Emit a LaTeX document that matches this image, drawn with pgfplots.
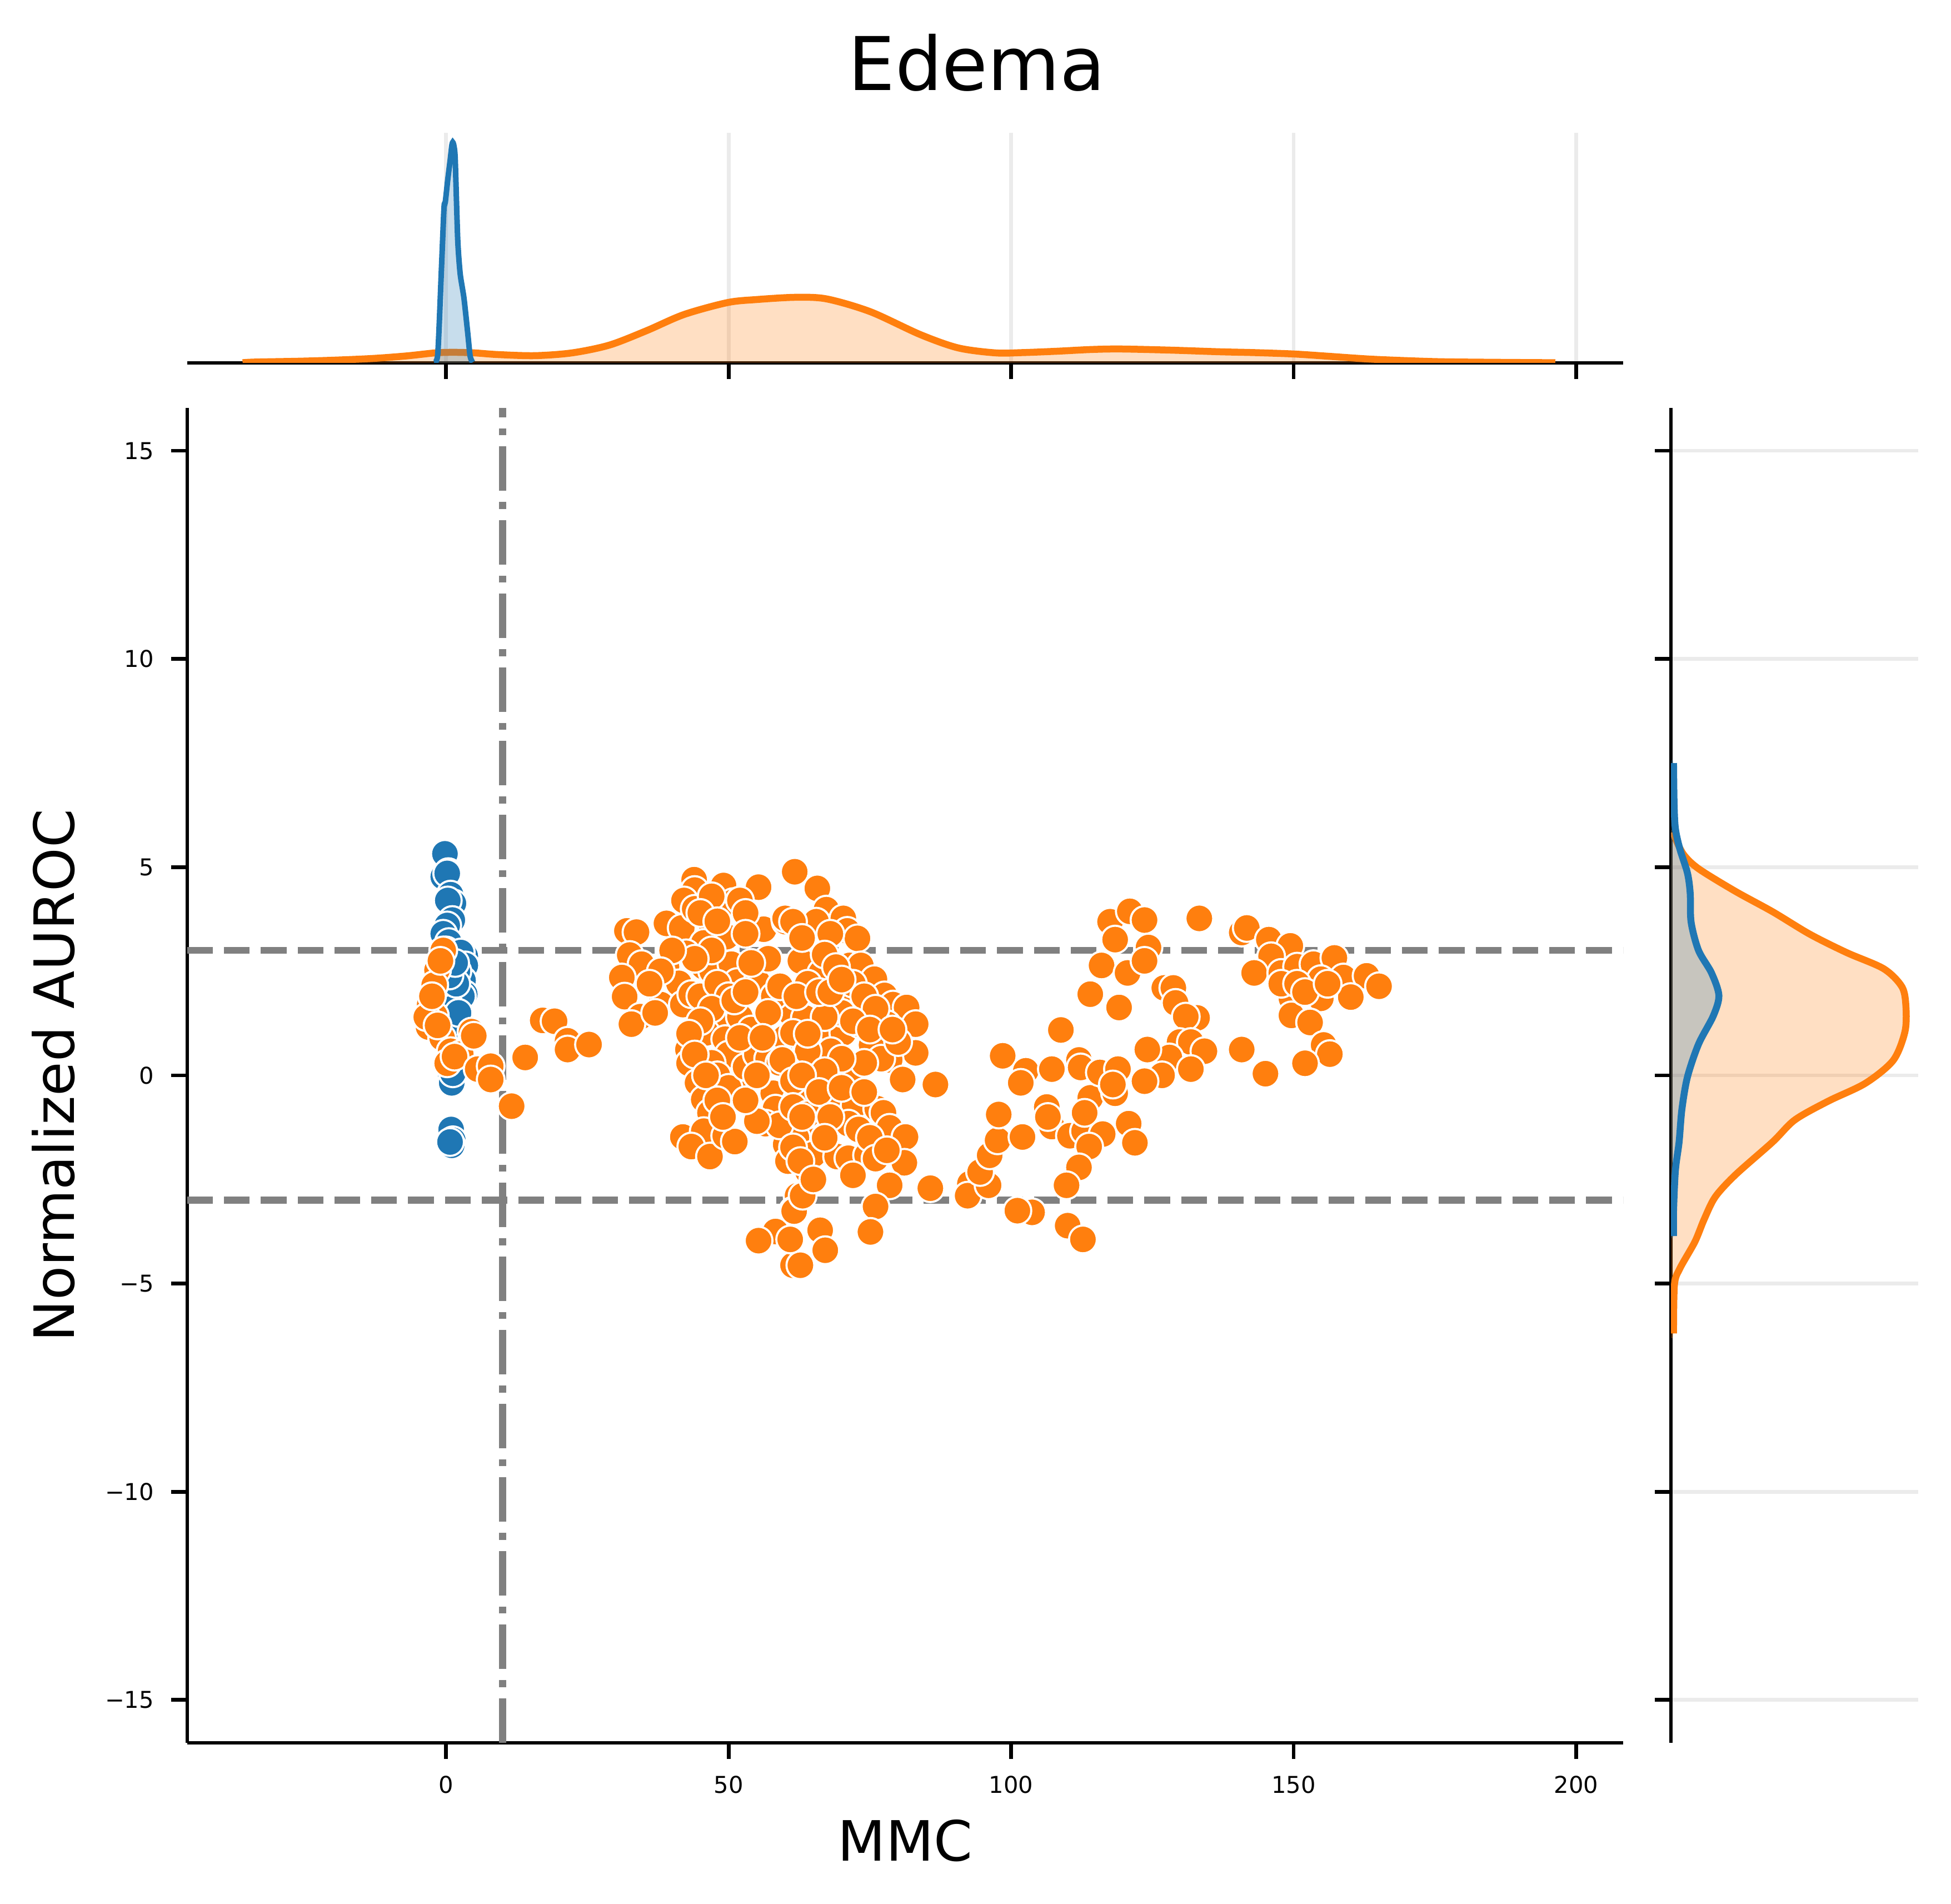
\documentclass[border=0pt]{standalone}
\usepackage{fontspec}
\setmainfont{DejaVu Sans}
\usepackage{pgfplots}
\pgfplotsset{compat=1.18}
\definecolor{tabblue}{HTML}{1F77B4}
\definecolor{taborange}{HTML}{FF7F0E}
\definecolor{gridc}{HTML}{EBEBEB}
\definecolor{refgray}{HTML}{808080}
\pgfplotsset{
  myaxis/.style={scale only axis, anchor=north west,
    tick align=outside, major tick length=3.5pt,
    tick style={black, line width=0.8pt},
    axis line style={black, line width=0.8pt},
    tick label style={font=\fontsize{5}{6}\selectfont},
    /pgf/number format/assume math mode=true,
    major grid style={gridc, line width=0.8pt},
  },
  dot/.style={only marks, mark=*, mark size=3pt, mark options={fill=#1, draw=white, line width=0.45pt}},
}
\begin{document}
\begin{tikzpicture}
\path[use as bounding box] (0,0) rectangle (421.32pt,-411.12pt);
\node[anchor=base, inner sep=0pt, font=\fontsize{16}{19}\selectfont] at (210.96pt,-19.5pt) {Edema};

% ---------------- main scatter ----------------
\begin{axis}[myaxis, at={(40.44pt,-88.08pt)}, width=310.08pt, height=288.24pt,
  xmin=-45.8, xmax=208.3, ymin=-16.03, ymax=16.03,
  axis x line*=bottom, axis y line*=left,
  xtick={0,50,100,150,200}, ytick={-15,-10,-5,0,5,10,15},
  yticklabels={−15,−10,−5,0,5,10,15},
  xticklabel style={anchor=north, inner sep=0pt, yshift=-3.5pt},
  yticklabel style={anchor=east, inner sep=0pt, xshift=-3.5pt},
  xlabel={MMC}, ylabel={Normalized AUROC},
  label style={font=\fontsize{12}{14}\selectfont},
  xlabel style={at={([yshift=-25.56pt]axis description cs:0.5,0)}, anchor=base, inner sep=0pt},
  ylabel style={at={([xshift=-24pt]axis description cs:0,0.5)}, anchor=south, inner sep=0pt},
]
\addplot[dot=tabblue] coordinates {
(-0.2,5.32)(0.4,4.88)(-0.5,4.77)(0.2,4.85)(0.8,4.34)(1.3,4.13)(0.3,4.2)(1.1,3.73)(0.2,3.6)(-0.5,3.4)
(0.5,3.2)(0.0,3.0)(1.0,2.9)(3.4,2.86)(2.6,2.95)(3.4,2.64)(3.0,2.28)(2.0,2.5)(3.3,1.95)(1.5,1.88)
(2.4,1.66)(2.8,1.9)(0.4,1.52)(1.0,1.6)(2.0,1.3)(0.8,1.16)(1.5,1.0)(1.3,0.87)(0.8,0.6)(1.2,0.4)
(0.5,0.2)(0.8,-0.07)(1.0,-0.18)(1.2,0.05)(0.9,-1.30)(1.2,-1.56)(1.0,-1.68)(0.7,-1.6)(1.8,2.2)(2.2,1.5)
(0.6,2.4)(1.6,2.7)
};
\addplot[dot=taborange] coordinates {
(-0.5,3.0)(-1.6,2.53)(-2.1,2.17)(-2.9,1.70)(-2.0,1.44)(-3.1,1.16)(-3.5,1.4)(-0.7,0.90)(0.8,0.58)(0.2,0.29)
(2.6,0.51)(1.5,0.45)(4.5,1.05)(4.9,0.95)(5.6,0.15)(7.9,0.22)(7.9,-0.1)(11.6,-0.74)(14.0,0.43)(17.1,1.32)
(19.2,1.30)(21.5,0.83)(21.5,0.62)(25.3,0.74)(-1.0,2.75)(-2.5,1.9)(-1.5,1.2)
(32.0,3.47)(33.7,3.44)(32.5,2.89)(34.6,2.67)(31.1,2.35)(31.6,1.89)(34.4,1.41)(32.8,1.23)(38.0,1.70)(39.0,3.65)
(41.7,3.54)(43.9,4.70)(44.0,4.45)(42.1,4.2)(49.1,4.56)(50.8,4.16)(55.3,4.52)(56.2,3.51)(60.1,3.69)(61.7,4.89)
(46.9,3.65)(49.6,3.33)(45.6,3.18)(42.5,2.93)(39.0,2.61)(45.6,2.61)(47.1,2.5)(50.5,2.67)(56.8,2.75)(51.5,2.24)
(55.1,2.24)(59.2,2.14)(41.2,2.21)(41.9,1.70)(43.4,1.95)(45.0,1.9)(48.7,1.30)(46.0,1.02)(49.4,0.87)(52.0,0.54)
(42.8,0.62)(43.0,0.29)(44.5,-0.18)(51.3,-0.07)(51.7,-0.43)(45.6,-0.58)(46.7,-0.90)(57.9,-0.43)(58.3,-0.80)(56.5,-1.16)
(41.9,-1.48)(45.6,-1.34)(43.4,-1.71)(46.7,-1.95)(49.4,-1.45)(51.1,-1.59)(60.1,-1.66)(60.5,-2.06)(62.2,-2.89)(61.4,-3.25)
(58.3,-3.75)(55.3,-3.97)(61.4,-4.56)
(44,4.0)(47,4.3)(45,3.9)(48,3.7)(52,4.2)(53,3.9)(47,3.0)(44,2.8)(48,2.2)(50,1.9)
(47,1.6)(52,1.4)(54,1.1)(50,0.5)(47,0.3)(48,0.0)(50,-0.3)(53,0.2)(55,0.5)(57,0.4)
(59,0.3)(60,0.9)(61,1.5)(58,1.9)(63,0.4)(64,-0.4)(62,-0.6)(63,-1.2)(62,-1.5)(64,-2.3)
(65,-1.9)(59,-1.2)(55,-1.1)(57,2.8)(54,2.7)(53,3.4)(45,1.3)(43,1.0)(44,0.5)(46,0.0)
(48,-0.6)(49,-1.0)(53,-0.6)(55,0.0)(52,0.9)(51,1.8)(53,2.0)(57,1.5)(56,0.9)(40,3.0)
(38,2.5)(36,2.2)(37,1.5)
(65.7,4.49)(67.3,3.98)(65.5,3.69)(60.0,3.77)(61.4,3.69)(70.3,3.77)(71.0,3.47)(72.8,3.29)(65.3,2.89)(62.7,2.75)
(71.4,2.64)(66.4,2.46)(73.4,2.64)(75.8,2.31)(59.1,2.14)(69.2,1.85)(77.6,1.92)(79.1,1.70)(81.5,1.63)(83.1,1.23)
(65.3,1.74)(63.5,1.38)(61.4,1.02)(66.6,1.16)(68.3,1.09)(70.3,1.02)(73.2,1.23)(78.0,1.23)(75.3,0.73)(83.1,0.54)
(68.1,0.58)(64.0,0.58)(59.5,0.37)(61.4,-0.14)(65.3,-0.07)(71.9,0.0)(78.5,0.37)(80.8,-0.1)(86.6,-0.22)(69.2,-0.58)
(61.4,-0.76)(72.3,-0.72)(76.3,-0.8)(77.4,-0.9)(71.2,-1.16)(64.0,-0.94)(78.5,-1.26)(81.3,-1.48)(61.4,-1.73)(62.7,-2.06)
(69.2,-1.95)(71.2,-1.99)(74.5,-1.92)(81.1,-2.10)(78.5,-2.64)(76.0,-3.15)(75.1,-3.76)(85.7,-2.71)(61.6,-3.26)(63.1,-2.89)
(66.2,-3.72)(67.1,-4.2)(62.7,-4.56)(60.9,-3.94)
(63,3.3)(68,3.4)(67,2.9)(69,2.6)(72,2.2)(74,1.9)(76,1.6)(70,1.5)(67,1.4)(72,1.3)
(75,1.1)(64,2.2)(62,1.9)(77,0.4)(74,0.3)(70,0.4)(67,0.1)(63,0.0)(66,-0.4)(68,-1.0)
(73,-1.3)(75,-1.5)(67,-1.5)(70,-0.3)(74,-0.4)(80,0.8)(79,1.1)(63,-1.0)(65,-2.5)(72,-2.4)
(76,-2.0)(78,-1.8)(66,2.0)(68,2.0)(70,2.3)(64,1.0)
(92.7,-2.60)(92.3,-2.89)(96.0,-2.64)(94.5,-2.32)(96.2,-1.92)(97.6,-1.56)(97.8,-0.94)(102.0,-1.48)(98.5,0.47)(102.6,0.11)
(101.7,-0.18)(107.2,0.15)(108.8,1.09)(106.3,-0.76)(107.2,-1.23)(110.4,-1.45)(112.0,0.37)(112.3,0.19)(114.0,-0.54)(112.9,-1.34)
(116.2,-1.41)(113.8,-1.71)(112.0,-2.21)(109.8,-2.64)(103.7,-3.29)(101.1,-3.25)(110.0,-3.61)(112.7,-3.94)(117.9,-0.22)(118.4,-0.43)
(115.7,0.07)(120.8,-1.16)(121.9,-1.62)(123.6,-0.14)(124.3,0.62)(126.7,0.0)(116.0,2.64)(114.0,1.95)(119.1,1.63)(120.6,2.46)
(117.5,3.69)(121.0,3.94)(123.6,3.73)(118.4,3.26)(124.3,3.07)(123.6,2.75)(127.1,2.10)(106.5,-1.0)(113.0,-0.9)(118.9,0.15)
(118.0,-0.22)
(133.3,3.77)(140.8,3.43)(141.7,3.54)(145.6,3.26)(149.4,3.11)(146.0,2.86)(143.0,2.46)(147.8,2.46)(150.6,2.61)(153.5,2.67)
(157.2,2.82)(154.8,2.31)(158.8,2.35)(162.9,2.39)(165.1,2.14)(160.1,1.88)(154.8,1.85)(149.6,1.85)(147.8,2.2)(150.6,2.2)
(149.6,1.44)(152.9,1.27)(155.3,0.73)(156.4,0.51)(152.0,0.29)(145.0,0.04)(140.8,0.62)(132.9,1.38)(128.7,2.10)(129.1,1.74)
(130.9,1.41)(129.8,0.80)(131.8,0.80)(134.2,0.58)(128.0,0.43)(131.8,0.15)(126.7,0.0)(124.1,0.62)(123.6,-0.14)(152,2.0)
(156,2.2)
};
\addplot[refgray, line width=1.5pt, dash pattern=on 5.55pt off 2.4pt] coordinates {(-45.8,3) (208.3,3)};
\addplot[refgray, line width=1.5pt, dash pattern=on 5.55pt off 2.4pt] coordinates {(-45.8,-3) (208.3,-3)};
\addplot[refgray, line width=1.5pt, dash pattern=on 9.6pt off 2.4pt on 1.5pt off 2.4pt] coordinates {(10,-16.03) (10,16.03)};
\end{axis}

% ---------------- top marginal ----------------
\begin{axis}[myaxis, at={(40.44pt,-28.68pt)}, width=310.08pt, height=49.68pt,
  xmin=-45.8, xmax=208.3, ymin=0, ymax=414,
  axis x line*=bottom, hide y axis,
  xtick={0,50,100,150,200}, xticklabels={}, xmajorgrids,
]
\addplot[smooth, draw=none, fill=taborange, fill opacity=0.25] coordinates {
(-36,0)(-33.8,1.5)(-26,3)(-19.5,5)(-12.9,8)(-7,12.5)(-1.9,18)(1.4,19)(5,18)(9.1,15)(15.7,13)(22.3,18)(28.9,32)(35.5,58)(42.1,87)(49.8,108.5)(55,114)(61.9,118)(67.4,115)(75.1,92)(83.9,51)(90.6,27)(97.2,18)(102,18.5)(108.2,21)(114,24)(119.2,25)(128,23)(136.8,20)(143,18.5)(150,16)(156,12)(163.2,7)(170,4)(176.4,2)(186,1)(196.3,0)
};
\addplot[smooth, taborange, line width=1.5pt] coordinates {
(-36,0.3)(-33.8,1.5)(-26,3)(-19.5,5)(-12.9,8)(-7,12.5)(-1.9,18)(1.4,19)(5,18)(9.1,15)(15.7,13)(22.3,18)(28.9,32)(35.5,58)(42.1,87)(49.8,108.5)(55,114)(61.9,118)(67.4,115)(75.1,92)(83.9,51)(90.6,27)(97.2,18)(102,18.5)(108.2,21)(114,24)(119.2,25)(128,23)(136.8,20)(143,18.5)(150,16)(156,12)(163.2,7)(170,4)(176.4,2)(186,1)(196.3,0.3)
};
\addplot[smooth, tension=0.4, draw=none, fill=tabblue, fill opacity=0.25] coordinates {
(-2.12,0)(-1.46,17)(-0.8,174)(-0.36,280)(-0.14,289)(0.3,330)(0.74,366)(1.0,390)(1.18,397)(1.4,390)(1.62,366)(2.06,222)(2.5,160)(3.16,117)(3.82,55)(4.26,12)(4.7,0)
};
\addplot[smooth, tension=0.4, tabblue, line width=1.2pt] coordinates {
(-2.12,1)(-1.46,17)(-0.8,174)(-0.36,280)(-0.14,289)(0.3,330)(0.74,366)(1.0,390)(1.18,397)(1.4,390)(1.62,366)(2.06,222)(2.5,160)(3.16,117)(3.82,55)(4.26,12)(4.7,1)
};
\end{axis}

% ---------------- right marginal ----------------
\begin{axis}[myaxis, at={(360.84pt,-88.08pt)}, width=53.4pt, height=288.24pt,
  xmin=0, xmax=445, ymin=-16.03, ymax=16.03,
  axis y line*=left, hide x axis,
  ytick={-15,-10,-5,0,5,10,15}, yticklabels={}, ymajorgrids,
]
\addplot[smooth, draw=none, fill=taborange, fill opacity=0.25] coordinates {
(0,-6.3)(4.7,-6.2)(6.3,-5.03)(16,-4.64)(43,-4.0)(59.7,-3.46)(79.7,-2.92)(116,-2.39)(183,-1.60)(223,-1.07)(283,-0.62)(350,-0.19)(400,0.36)(421,1.04)(423,1.63)(416,2.12)(383,2.56)(316,2.95)(250,3.39)(183,3.93)(116,4.42)(50,4.96)(23,5.30)(8,5.69)(4.7,5.84)(0,5.9)
};
\addplot[smooth, taborange, line width=1.5pt] coordinates {
(4.7,-6.2)(6.3,-5.03)(16,-4.64)(43,-4.0)(59.7,-3.46)(79.7,-2.92)(116,-2.39)(183,-1.60)(223,-1.07)(283,-0.62)(350,-0.19)(400,0.36)(421,1.04)(423,1.63)(416,2.12)(383,2.56)(316,2.95)(250,3.39)(183,3.93)(116,4.42)(50,4.96)(23,5.30)(8,5.69)(4.7,5.84)
};
\addplot[smooth, draw=none, fill=tabblue, fill opacity=0.25] coordinates {
(0,-3.9)(4.7,-3.86)(4.7,-3.27)(8,-2.29)(14.7,-1.60)(19.7,-0.82)(29.7,-0.04)(49.7,0.75)(76.3,1.43)(86.3,1.92)(73,2.46)(49.7,3.0)(36.3,3.68)(34.7,4.37)(29.7,4.86)(16,5.44)(8,5.93)(5.7,6.52)(4.7,7.50)(0,7.55)
};
\addplot[smooth, tabblue, line width=1.5pt] coordinates {
(4.7,-3.86)(4.7,-3.27)(8,-2.29)(14.7,-1.60)(19.7,-0.82)(29.7,-0.04)(49.7,0.75)(76.3,1.43)(86.3,1.92)(73,2.46)(49.7,3.0)(36.3,3.68)(34.7,4.37)(29.7,4.86)(16,5.44)(8,5.93)(5.7,6.52)(4.7,7.50)
};
\end{axis}
\end{tikzpicture}
\end{document}
